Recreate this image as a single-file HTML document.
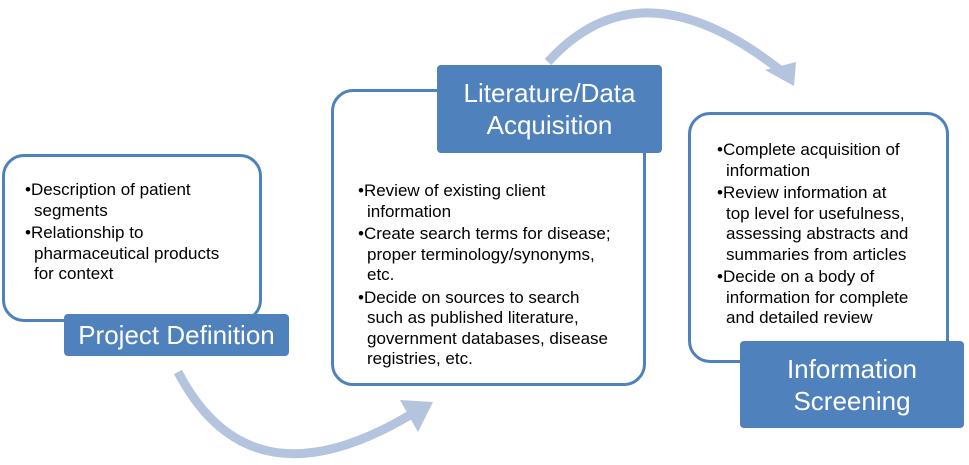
<!DOCTYPE html>
<html><head><meta charset="utf-8"><style>
body{margin:0;width:969px;height:465px;background:#fff;position:relative;overflow:hidden;font-family:"Liberation Sans",sans-serif}
.box{position:absolute;border:3px solid #4f81bd;border-radius:22px;background:#fff;box-sizing:border-box}
.lab{position:absolute;background:#4f81bd;color:#fff;border-radius:4px;text-align:center;display:flex;align-items:center;justify-content:center;font-size:26px;line-height:32px}
ul{position:absolute;margin:0;padding:0;list-style:none;font-size:17px;line-height:20.5px;color:#000;white-space:nowrap}
li{padding-left:9px;text-indent:-9px;margin-bottom:2px}
li:before{content:"•";}
</style></head><body>
<svg width="969" height="465" style="position:absolute;left:0;top:0">
<path d="M178 372 Q250 510 410 415" stroke="#b4c4de" stroke-width="9" fill="none"/>
<polygon points="433,402 400,400 418,432" fill="#b4c4de"/>
<path d="M548 62 Q640 -40 780 70" stroke="#b4c4de" stroke-width="9" fill="none"/>
<polygon points="794,86 765,70 796,62" fill="#b4c4de"/>
</svg>
<div class="box" style="left:2px;top:154px;width:260px;height:168px"></div>
<ul style="left:25px;top:180px"><li>Description of patient<br>segments</li><li>Relationship to<br>pharmaceutical products<br>for context</li></ul>
<div class="lab" style="left:64px;top:314px;width:225px;height:42px">Project Definition</div>

<div class="box" style="left:331px;top:89px;width:315px;height:297px"></div>
<ul style="left:358px;top:181px"><li>Review of existing client<br>information</li><li>Create search terms for disease;<br>proper terminology/synonyms,<br>etc.</li><li>Decide on sources to search<br>such as published literature,<br>government databases, disease<br>registries, etc.</li></ul>
<div class="lab" style="left:437px;top:65px;width:225px;height:88px">Literature/Data<br>Acquisition</div>

<div class="box" style="left:688px;top:112px;width:261px;height:251px"></div>
<ul style="left:717px;top:140px"><li>Complete acquisition of<br>information</li><li>Review information at<br>top level for usefulness,<br>assessing abstracts and<br>summaries from articles</li><li>Decide on a body of<br>information for complete<br>and detailed review</li></ul>
<div class="lab" style="left:740px;top:341px;width:224px;height:87px">Information<br>Screening</div>
</body></html>
